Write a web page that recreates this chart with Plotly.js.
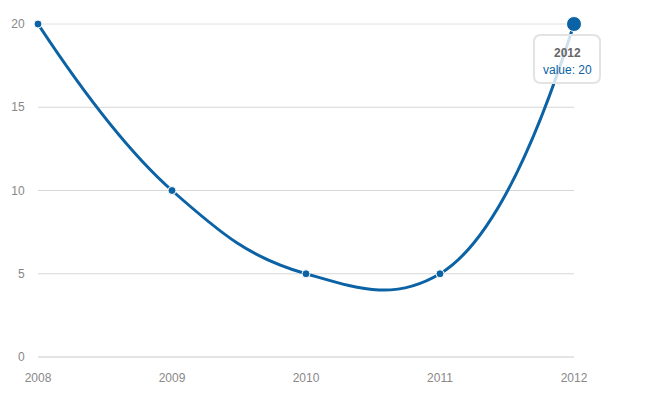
<!DOCTYPE html>
<html>
<head>
<meta charset="utf-8">
<script src="https://cdn.plot.ly/plotly-3.0.1.min.js"></script>
<style>html,body{margin:0;padding:0;background:#fff;}#chart{width:647px;height:420px;}</style>
</head>
<body>
<div id="chart"></div>
<script>
const years = [2008, 2009, 2010, 2011, 2012];
const values = [20, 10, 5, 5, 20];
const yTicks = [0, 5, 10, 15, 20];
const seriesLabel = "value";
const hoverIndex = 4;

const blue = "#0b62a4";
const font = "Liberation Sans, Arial, sans-serif";

const traces = [
  {
    x: years, y: values, type: "scatter", mode: "lines+markers",
    line: {color: blue, width: 3, shape: "spline", smoothing: 1.2},
    marker: {color: blue, size: 8, line: {color: "#fff", width: 1}},
    hoverinfo: "skip", cliponaxis: false
  },
  {
    x: [years[hoverIndex]], y: [values[hoverIndex]], type: "scatter", mode: "markers",
    marker: {color: blue, size: 15, line: {color: "#fff", width: 1}},
    hoverinfo: "skip", cliponaxis: false
  }
];

const gridShapes = yTicks.map(v => ({
  type: "line", layer: "below",
  xref: "paper", yref: "y", x0: 0, x1: 1, y0: v, y1: v,
  line: {color: v === 0 ? "#e4e4e4" : (v === 20 ? "#e2e2e2" : "#d6d6d6"), width: v === 0 ? 2 : 1}
}));

const layout = {
  width: 647, height: 420,
  margin: {l: 38, r: 73, t: 23, b: 62},
  paper_bgcolor: "#fff", plot_bgcolor: "#fff",
  showlegend: false,
  font: {family: font, size: 12, color: "#888"},
  xaxis: {
    range: [years[0], years[years.length - 1]],
    tickvals: years, ticktext: years.map(String),
    showgrid: false, zeroline: false, showline: false,
    ticks: "outside", ticklen: 9, tickcolor: "rgba(0,0,0,0)",
    tickfont: {family: font, size: 12, color: "#888"}
  },
  yaxis: {
    range: [-0.06, 20.06],
    tickvals: yTicks,
    showgrid: false, zeroline: false, showline: false,
    ticks: "outside", ticklen: 10, tickcolor: "rgba(0,0,0,0)",
    tickfont: {family: font, size: 12, color: "#888"}
  },
  shapes: gridShapes.concat([
    {
      type: "path", layer: "above",
      xref: "paper", yref: "paper",
      xsizemode: "pixel", ysizemode: "pixel",
      xanchor: 1, yanchor: 1,
      path: "M -33,-12 L 19,-12 Q 26,-12 26,-19 L 26,-53 Q 26,-60 19,-60 L -33,-60 Q -40,-60 -40,-53 L -40,-19 Q -40,-12 -33,-12 Z",
      fillcolor: "rgba(255,255,255,0.8)",
      line: {color: "#e3e3e3", width: 2}
    }
  ]),
  annotations: [
    {
      xref: "x", yref: "y", x: years[hoverIndex], y: values[hoverIndex],
      text: "<b>" + years[hoverIndex] + "</b>", showarrow: false,
      yshift: -29, xshift: -7,
      font: {family: font, size: 12, color: "#666"}
    },
    {
      xref: "x", yref: "y", x: years[hoverIndex], y: values[hoverIndex],
      text: seriesLabel + ": " + values[hoverIndex], showarrow: false,
      yshift: -46, xshift: -7,
      font: {family: font, size: 12, color: blue}
    }
  ]
};

Plotly.newPlot("chart", traces, layout, {displayModeBar: false, staticPlot: true});
</script>
</body>
</html>
